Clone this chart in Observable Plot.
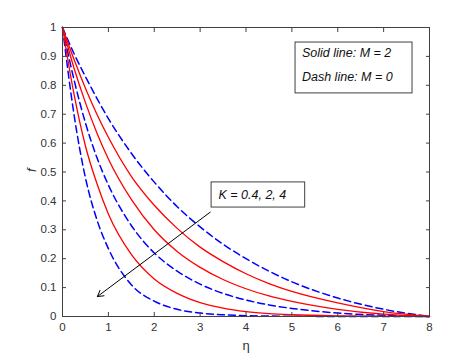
<!DOCTYPE html>
<html>
<head>
<meta charset="utf-8">
<script src="https://cdn.jsdelivr.net/npm/d3@7"></script>
<script src="https://cdn.jsdelivr.net/npm/@observablehq/plot@0.6"></script>
<style>
  html, body { margin: 0; padding: 0; background: #fff; }
  #chart { width: 474px; height: 355px; }
</style>
</head>
<body>
<div id="chart"></div>
<script>
// η sample points
const eta = [0, 0.25, 0.5, 0.75, 1, 1.5, 2, 2.5, 3, 3.5, 4, 4.5, 5, 6, 7, 8];

// Dash lines (M = 0), K = 0.4, 2, 4
const dashK04 = [1, 0.70, 0.48, 0.335, 0.235, 0.11, 0.053, 0.025, 0.012, 0.006, 0.003, 0.0015, 0.001, 0, 0, 0];
const dashK2  = [1, 0.82, 0.67, 0.55, 0.455, 0.315, 0.22, 0.157, 0.112, 0.08, 0.057, 0.04, 0.028, 0.012, 0.004, 0];
const dashK4  = [1, 0.91, 0.83, 0.755, 0.685, 0.565, 0.465, 0.38, 0.31, 0.25, 0.20, 0.157, 0.12, 0.064, 0.025, 0];

// Solid lines (M = 2), K = 0.4, 2, 4
const solidK04 = [1, 0.77, 0.59, 0.46, 0.355, 0.215, 0.13, 0.08, 0.048, 0.029, 0.017, 0.01, 0.006, 0.002, 0.0005, 0];
const solidK2  = [1, 0.86, 0.74, 0.635, 0.545, 0.405, 0.30, 0.225, 0.17, 0.128, 0.096, 0.071, 0.052, 0.025, 0.008, 0];
const solidK4  = [1, 0.89, 0.79, 0.70, 0.62, 0.485, 0.385, 0.305, 0.24, 0.19, 0.148, 0.114, 0.087, 0.047, 0.017, 0];

const xTicks = [0, 1, 2, 3, 4, 5, 6, 7, 8];
const yTicks = [0, 0.1, 0.2, 0.3, 0.4, 0.5, 0.6, 0.7, 0.8, 0.9, 1];

const legendLines = ["Solid line: M = 2", "Dash line: M = 0"];
const kLabel = "K = 0.4, 2, 4";

function series(vals, name) {
  return eta.map((x, i) => ({eta: x, f: vals[i], series: name}));
}
const dashed = [series(dashK04, "d1"), series(dashK2, "d2"), series(dashK4, "d3")].flat();
const solid = [series(solidK04, "s1"), series(solidK2, "s2"), series(solidK4, "s3")].flat();

const axisColor = "#404040";
const font = "Liberation Sans, Arial, sans-serif";

const chart = Plot.plot({
  width: 474,
  height: 355,
  marginLeft: 62,
  marginRight: 45,
  marginTop: 27,
  marginBottom: 39,
  style: {fontFamily: font, fontSize: "11.5px", color: "#333", background: "#fff"},
  x: {domain: [0, 8]},
  y: {domain: [0, 1]},
  marks: [
    Plot.line(dashed, {x: "eta", y: "f", z: "series", stroke: "#0000ff", strokeWidth: 1.5, strokeDasharray: "7,4", curve: "monotone-x"}),
    Plot.line(solid, {x: "eta", y: "f", z: "series", stroke: "#ff0000", strokeWidth: 1.3, curve: "monotone-x"}),
    Plot.frame({stroke: axisColor}),
    Plot.axisX(xTicks, {anchor: "bottom", tickSize: -4, tickPadding: 10, tickFormat: d => String(d), stroke: axisColor, label: null, fill: "#333"}),
    Plot.axisX(xTicks, {anchor: "top", tickSize: -4, tickFormat: () => "", stroke: axisColor, label: null}),
    Plot.axisY(yTicks, {anchor: "left", tickSize: -4, tickPadding: 10, tickFormat: d => String(d), stroke: axisColor, label: null, fill: "#333"}),
    Plot.axisY(yTicks, {anchor: "right", tickSize: -4, tickFormat: () => "", stroke: axisColor, label: null}),
    Plot.text(["η"], {frameAnchor: "bottom", dy: 33, fontSize: 13, fill: "#333"}),
    Plot.text(["f"], {frameAnchor: "left", dx: -31, rotate: -90, fontSize: 13, fontStyle: "italic", fill: "#333"}),
    // Legend box
    Plot.rect([0], {x1: 5.08, x2: 7.63, y1: 0.772, y2: 0.948, fill: "#fff", stroke: axisColor, strokeWidth: 1}),
    Plot.text(legendLines, {x: 5.22, y: (d, i) => 0.912 - i * 0.083, text: d => d, textAnchor: "start", fontSize: 12.5, fontStyle: "italic", fill: "#111"}),
    // K annotation
    Plot.arrow([0], {x1: 3.22, y1: 0.361, x2: 0.76, y2: 0.069, stroke: "#000", strokeWidth: 1, headLength: 10}),
    Plot.rect([0], {x1: 3.25, x2: 5.29, y1: 0.377, y2: 0.464, fill: "#fff", stroke: axisColor, strokeWidth: 1}),
    Plot.text([kLabel], {x: 3.4, y: 0.42, textAnchor: "start", fontSize: 12.5, fontStyle: "italic", fill: "#111"})
  ]
});
document.getElementById("chart").appendChild(chart);
</script>
</body>
</html>
